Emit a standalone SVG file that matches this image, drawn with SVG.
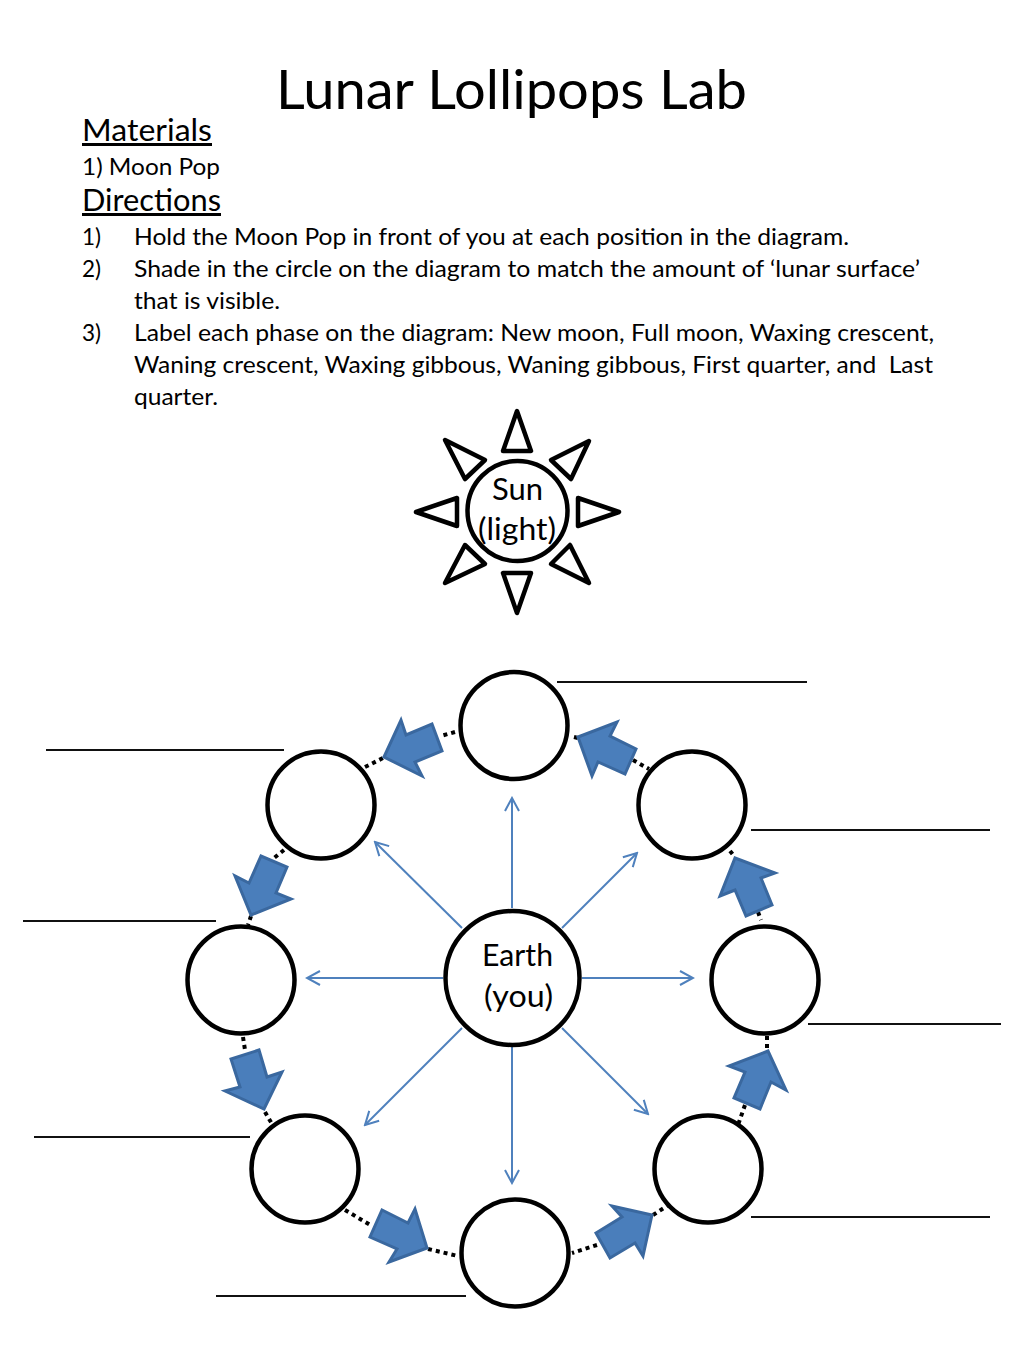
<svg xmlns="http://www.w3.org/2000/svg" width="1024" height="1365" viewBox="0 0 1024 1365">
<style>
text{font-family:"Lato","Carlito","Open Sans",sans-serif;fill:#000;white-space:pre}
.t{font-size:55px}
.h{font-size:30px;text-decoration:underline}
.b{font-size:22.5px}
.l{font-size:31px}
.c{fill:#fff;stroke:#000;stroke-width:4.5}
.r{fill:#fff;stroke:#000;stroke-width:4.5;stroke-linejoin:round}
.d{stroke:#000;stroke-width:4;stroke-dasharray:4 4;fill:none}
.a{stroke:#4f81bd;stroke-width:2;fill:none;marker-end:url(#open)}
.u{stroke:#111;stroke-width:1.8}
.p{fill:#4a7ebb;stroke:#3a689f;stroke-width:3;stroke-linejoin:miter}
</style>
<defs>
<marker id="open" markerUnits="userSpaceOnUse" markerWidth="16" markerHeight="16" refX="14" refY="8" orient="auto" viewBox="0 0 16 16">
<path d="M1 1 L14 8 L1 15" fill="none" stroke="#4f81bd" stroke-width="2"/>
</marker>
</defs>
<rect width="1024" height="1365" fill="#fff"/>
<g id="text-block">
<text class="t" x="276" y="109" textLength="471" lengthAdjust="spacingAndGlyphs">Lunar Lollipops Lab</text>
<text class="h" x="82" y="141" textLength="130" lengthAdjust="spacingAndGlyphs">Materials</text>
<text class="b" x="82" y="175" textLength="138" lengthAdjust="spacingAndGlyphs">1) Moon Pop</text>
<text class="h" x="82" y="211" textLength="139" lengthAdjust="spacingAndGlyphs">Directions</text>
<text class="b" x="82" y="245">1)</text>
<text class="b" x="134" y="245" textLength="715" lengthAdjust="spacingAndGlyphs">Hold the Moon Pop in front of you at each position in the diagram.</text>
<text class="b" x="82" y="277">2)</text>
<text class="b" x="134" y="277" textLength="786" lengthAdjust="spacingAndGlyphs">Shade in the circle on the diagram to match the amount of ‘lunar surface’</text>
<text class="b" x="134" y="309" textLength="146" lengthAdjust="spacingAndGlyphs">that is visible.</text>
<text class="b" x="82" y="341">3)</text>
<text class="b" x="134" y="341" textLength="800" lengthAdjust="spacingAndGlyphs">Label each phase on the diagram: New moon, Full moon, Waxing crescent,</text>
<text class="b" x="134" y="373" textLength="799" lengthAdjust="spacingAndGlyphs">Waning crescent, Waxing gibbous, Waning gibbous, First quarter, and  Last</text>
<text class="b" x="134" y="405" textLength="84" lengthAdjust="spacingAndGlyphs">quarter.</text>
</g>
<g id="sun">
<circle class="c" cx="517.5" cy="511" r="50"/>
<polygon class="r" points="517,411 531,451 503,451"/>
<polygon class="r" points="589,441 551,460 571,479"/>
<polygon class="r" points="578,498 619,512 578,526"/>
<polygon class="r" points="570,545 589,583 551,564"/>
<polygon class="r" points="503,573 531,573 517,613"/>
<polygon class="r" points="465,545 485,564 445,583"/>
<polygon class="r" points="457,498 457,526 416,512"/>
<polygon class="r" points="445,440 485,460 465,479"/>
<text class="l" x="492" y="500" textLength="51" lengthAdjust="spacingAndGlyphs">Sun</text>
<text class="l" x="478" y="540" textLength="78" lengthAdjust="spacingAndGlyphs">(light)</text>
</g>
<g id="connectors">
<path class="d" d="M455 732L441 736M365 767L383 758M574 737L578 738M633 760L649 769M730 851L734 856M758 912L761 920M767 1036L767 1050M745 1105L738 1125M653 1215L667 1206M597 1245L572 1253M345 1210L372 1226M428 1249L458 1256M243 1037L245 1050M265 1112L272 1124M284 850L274 858M251 916L248 925"/>
<line class="a" x1="512" y1="908" x2="512" y2="798"/>
<line class="a" x1="462" y1="928" x2="375" y2="842"/>
<line class="a" x1="562" y1="928" x2="637" y2="853"/>
<line class="a" x1="443" y1="978" x2="307" y2="978"/>
<line class="a" x1="582" y1="978" x2="693" y2="978"/>
<line class="a" x1="462" y1="1028" x2="365" y2="1125"/>
<line class="a" x1="512" y1="1047" x2="512" y2="1183"/>
<line class="a" x1="562" y1="1028" x2="648" y2="1114"/>
<polygon class="p" points="384,757 401,720 406,735 432,724 442,751 415,762 422,776"/>
<polygon class="p" points="578,737 617,722 610,736 636,749 625,774 598,762 592,776"/>
<polygon class="p" points="735,858 775,873 761,878 772,905 746,916 735,890 720,896"/>
<polygon class="p" points="768,1051 786,1090 771,1082 760,1109 734,1098 745,1072 729,1066"/>
<polygon class="p" points="652,1215 612,1206 622,1217 596,1233 610,1258 635,1243 643,1256"/>
<polygon class="p" points="427,1248 415,1209 408,1223 382,1210 370,1237 397,1249 389,1262"/>
<polygon class="p" points="264,1109 282,1072 267,1077 259,1050 231,1059 240,1087 225,1091"/>
<polygon class="p" points="251,915 291,899 276,893 287,867 261,856 249,883 235,876"/>
<line class="u" x1="557" y1="682" x2="807" y2="682"/>
<line class="u" x1="46" y1="750" x2="284" y2="750"/>
<line class="u" x1="751" y1="830" x2="990" y2="830"/>
<line class="u" x1="23" y1="921" x2="216" y2="921"/>
<line class="u" x1="808" y1="1024" x2="1001" y2="1024"/>
<line class="u" x1="34" y1="1137" x2="250" y2="1137"/>
<line class="u" x1="751" y1="1217" x2="990" y2="1217"/>
<line class="u" x1="216" y1="1296" x2="466" y2="1296"/>
</g>
<g id="phase-top"><circle class="c" cx="514" cy="725.5" r="53.5"/></g>
<g id="phase-top-right"><circle class="c" cx="692" cy="805" r="53.5"/></g>
<g id="phase-right"><circle class="c" cx="765" cy="980" r="53.5"/></g>
<g id="phase-bottom-right"><circle class="c" cx="708" cy="1169" r="53.5"/></g>
<g id="phase-bottom"><circle class="c" cx="515" cy="1253" r="53.5"/></g>
<g id="phase-bottom-left"><circle class="c" cx="305" cy="1169" r="53.5"/></g>
<g id="phase-left"><circle class="c" cx="241" cy="980" r="53.5"/></g>
<g id="phase-top-left"><circle class="c" cx="321" cy="805" r="53.5"/></g>
<g id="earth">
<circle class="c" cx="512.5" cy="978" r="67"/>
<text class="l" x="482" y="966" textLength="71" lengthAdjust="spacingAndGlyphs">Earth</text>
<text class="l" x="484" y="1007" textLength="69" lengthAdjust="spacingAndGlyphs">(you)</text>
</g>
</svg>
